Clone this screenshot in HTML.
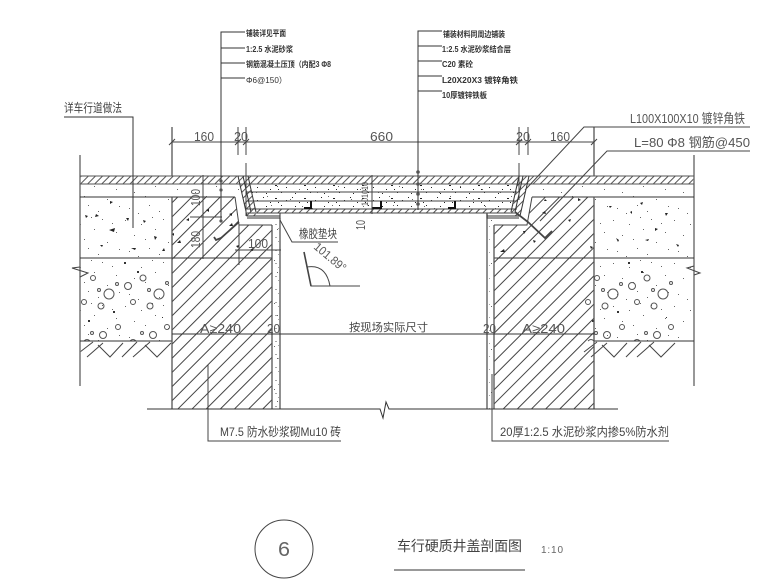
<!DOCTYPE html>
<html><head><meta charset="utf-8"><style>
html,body{margin:0;padding:0;background:#fff}
svg{display:block}
text{font-family:"Liberation Sans","Noto Sans CJK SC",sans-serif;fill:#444}
.s{font-size:8px;font-weight:700;fill:#333}
.n{font-size:13px;fill:#555}
.m{font-size:12px;fill:#444}
</style></head><body>
<svg width="760" height="586" viewBox="0 0 760 586" xmlns="http://www.w3.org/2000/svg">
<defs>
<pattern id="h1" width="10" height="10" patternUnits="userSpaceOnUse" patternTransform="rotate(45)"><path d="M5 0V10" stroke="#444" stroke-width="1"/></pattern>
<pattern id="h2" width="5" height="5" patternUnits="userSpaceOnUse" patternTransform="rotate(45)"><path d="M2 0V5" stroke="#555" stroke-width="1"/></pattern>
<pattern id="d" width="61" height="43" patternUnits="userSpaceOnUse"><g fill="#666">
<rect x="3" y="5" width="1" height="1"/><rect x="12" y="20" width="1" height="1"/><rect x="19" y="9" width="1" height="1"/><rect x="27" y="33" width="1" height="1"/><rect x="33" y="14" width="1" height="1"/><rect x="41" y="4" width="1" height="1"/><rect x="46" y="27" width="1" height="1"/><rect x="55" y="17" width="1" height="1"/><rect x="7" y="36" width="1" height="1"/><rect x="23" y="24" width="1" height="1"/><rect x="37" y="39" width="1" height="1"/><rect x="51" y="8" width="1" height="1"/><rect x="58" y="34" width="1" height="1"/><rect x="16" y="41" width="1" height="1"/><rect x="30" y="2" width="1" height="1"/></g></pattern>
<pattern id="dd" width="29" height="13" patternUnits="userSpaceOnUse"><g fill="#222">
<rect x="2" y="2" width="1" height="1"/><rect x="9" y="7" width="1" height="1"/><rect x="14" y="3" width="2" height="1"/><rect x="20" y="10" width="1" height="1"/><rect x="25" y="5" width="1" height="1"/><rect x="5" y="11" width="1" height="1"/><rect x="17" y="7" width="1" height="1"/></g></pattern>
<g id="grav" fill="none" stroke="#555" stroke-width="1">
<circle cx="93" cy="278" r="2.5"/><circle cx="143" cy="278" r="3"/><circle cx="128" cy="286" r="3.5"/><circle cx="117" cy="284" r="1.5"/><circle cx="109" cy="294" r="5"/><circle cx="159" cy="294" r="5"/><circle cx="149" cy="290" r="1.5"/><circle cx="99" cy="290" r="1.5"/><circle cx="84" cy="302" r="2.5"/><circle cx="101" cy="306" r="3"/><circle cx="133" cy="302" r="2.5"/><circle cx="150" cy="306" r="3"/><circle cx="167" cy="283" r="1.5"/><circle cx="118" cy="327" r="2.5"/><circle cx="167" cy="327" r="2.5"/><circle cx="92" cy="333" r="1.5"/><circle cx="103" cy="335" r="3.5"/><circle cx="142" cy="333" r="1.5"/><circle cx="153" cy="335" r="3.5"/><path d="M84 341q3-3 6 0M130 341q3-3 6 0"/>
<path d="M80 352 93 342M87 357 103 343M98 345 110 357 123 343M122 357 137 342M133 357 150 342M145 345 157 357 171 343" stroke="#444"/>
<g fill="#333" stroke="none"><rect x="113" y="311" width="2" height="2"/><rect x="137" y="271" width="2" height="2"/><rect x="88" y="320" width="2" height="2"/><rect x="162" y="317" width="1" height="1"/><rect x="124" y="262" width="2" height="2"/></g>
</g>
</defs>

<!-- fills -->
<rect x="80" y="176" width="614" height="8" fill="url(#h2)"/>
<rect x="80" y="184" width="614" height="13" fill="url(#d)"/>
<rect x="80" y="197" width="92" height="61" fill="url(#d)"/>
<rect x="594" y="197" width="100" height="61" fill="url(#d)"/>
<rect x="80" y="258" width="92" height="83" fill="url(#d)"/>
<rect x="594" y="258" width="100" height="83" fill="url(#d)"/>
<rect x="272" y="220" width="8" height="189" fill="url(#d)"/>
<rect x="272" y="220" width="8" height="189" fill="url(#dd)" opacity=".4"/>
<rect x="487" y="215" width="7" height="194" fill="url(#d)"/>
<rect x="487" y="215" width="7" height="194" fill="url(#dd)" opacity=".4"/>
<path d="M172 197H235L239 225H272V409H172Z" fill="url(#h1)"/>
<path d="M532 197H594V409H494V225H527Z" fill="url(#h1)"/>
<rect x="247" y="185" width="270" height="24" fill="#fff"/>
<rect x="247" y="185" width="270" height="24" fill="url(#dd)"/>
<rect x="247" y="185" width="270" height="24" fill="url(#d)"/>
<rect x="247" y="209" width="270" height="4" fill="url(#h2)"/>
<path d="M238 176 247 216H256L248 176ZM529 176 520 216H511L519 176Z" fill="#fff"/>
<path d="M238 176 247 216H256L248 176ZM529 176 520 216H511L519 176Z" fill="url(#h2)"/>

<use href="#grav"/>
<use href="#grav" x="504"/>

<!-- structure lines -->
<g fill="none" stroke="#444" stroke-width="1">
<path d="M80 155V386M694 155V386" stroke="#777" stroke-width="1.5"/>
<path d="M80 176H694M80 184H694" stroke="#555"/>
<path d="M80 197H235M532 197H694M80 258H272M494 258H694M80 341H172M594 341H694" stroke="#333"/>
<path d="M172 127V176M172 197V409M272 225V409M280 218V409M487 214V409M494 225V409M594 127V176M594 197V409" stroke="#555" stroke-width="1.3"/>
<path d="M235 197 239 225H272M532 197 527 225H494"/>
<path d="M147 409H380L383 418 386 402 389 409H618" stroke="#333"/>
<path d="M80 267 72 268 88 273 80 277"/>
<path d="M694 266 687 268 700 273 694 275"/>
<!-- cover -->
<path d="M247 192H517M247 201H517M247 209H517M247 213H517" stroke="#444"/>
<path d="M238 176 247 216H280M243 176 251 212M248 176 256 212" stroke="#333"/>
<path d="M529 176 520 216H487M523 176 515 212M519 176 511 212" stroke="#333"/>
<path d="M280 213V218H247M487 213V218H519" stroke="#333"/>
<path d="M515 212 528 222 545 238 552 231" stroke-width="1.8"/>
<path d="M239 222 221 238 216 240 214 237" stroke-width="1.8"/>
<path d="M311 201V208H304M381 201V208H372M455 201V208H448" stroke="#111" stroke-width="2"/>
<!-- dims -->
<path d="M172 142H594M238 127V155M246 127V155M246 163V216M519 127V155M528 127V155M519 163V200"/>
<path d="M169 145 175 139M235 145 241 139M243 145 249 139M516 145 522 139M525 145 531 139M591 145 597 139"/>
<path d="M172 334H594" stroke="#333"/>
<path d="M203 175V259M190 217H222M203 214V220"/>
<path d="M235 250H281M239 225V265"/>
<path d="M372 175V214"/>
<!-- leaders -->
<path d="M245 32H221V222M221 48H245M221 63H245M221 78H245" stroke="#333"/>
<path d="M442 31H418V210M418 46H442M418 61H442M418 76H442M418 91H442" stroke="#333"/>
<path d="M64 117H133V228" stroke="#333"/>
<path d="M750 127H584L525 190" />
<path d="M750 151H607L540 221" />
<path d="M280 220 292 242H338"/>
<path d="M208 365V441H341"/>
<path d="M492 374V441H669"/>
<!-- angle -->
<path d="M304 252 311 286H360" stroke-width="1"/>
<path d="M304 252 311 286" stroke-width="1.6"/>
<path d="M307 267Q326 264 330 286"/>
<!-- title -->
<circle cx="284" cy="549" r="29"/>
<path d="M394 570H525" stroke="#333"/>
</g>
<g fill="#555"><circle cx="221" cy="181" r="1.6"/><circle cx="221" cy="190" r="1.6"/><circle cx="221" cy="221" r="1.6"/>
<circle cx="418" cy="172" r="1.8"/><circle cx="418" cy="184" r="1.8"/><circle cx="418" cy="194" r="1.8"/><circle cx="418" cy="204" r="1.8"/></g>

<!-- aggregate marks -->
<g fill="#222">
<path d="M110 201l3 1-3 2zM85 215l3 1-2 2zM96 214l3 2-4 1zM126 218l3 0-1 3zM143 220l3 1-2 2zM109 230l6-2-1 4zM154 236l3 1-2 3zM100 245l3 0-1 2zM131 248l5 0-1 2zM162 251l2-3 1 3zM172 234l2-1v3zM177 243l3-3 1 3zM186 220l3-2 0 3zM206 210l3-1 0 3zM229 214l3-1v3zM229 226l3-3 1 3zM236 246l3-1-1 3zM250 250l3-2 0 3z"/>
<path d="M609 206l3 0-2 2zM630 212l2-1v3zM640 203l3-1-1 3zM665 213l3 0-2 3zM616 238l3 2-1 2zM645 240l4-1-1 2zM676 244l3 1-1 2zM655 228l3 1-3 2zM545 199l2 2-3 0zM578 198l3 2-3 1zM542 213l3-2 1 3zM568 220l3-1-1 3zM590 246l3 1-2 2zM523 231l3 0-2 3zM500 252l4-3 1 3zM533 240l3 1-2 2z"/>
</g>

<!-- text -->
<text class="s" x="246" y="36" textLength="40" lengthAdjust="spacingAndGlyphs">铺装详见平面</text>
<text class="s" x="246" y="52" textLength="47" lengthAdjust="spacingAndGlyphs">1:2.5 水泥砂浆</text>
<text class="s" x="246" y="67" textLength="85" lengthAdjust="spacingAndGlyphs">钢筋混凝土压顶（内配3 Φ8</text>
<text class="s" x="246" y="83" textLength="41" lengthAdjust="spacingAndGlyphs" style="font-weight:400">Φ6@150）</text>
<text class="s" x="443" y="37" textLength="62" lengthAdjust="spacingAndGlyphs">铺装材料同周边铺装</text>
<text class="s" x="442" y="52" textLength="69" lengthAdjust="spacingAndGlyphs">1:2.5 水泥砂浆结合层</text>
<text class="s" x="442" y="67" textLength="31" lengthAdjust="spacingAndGlyphs">C20 素砼</text>
<text class="s" x="442" y="83" textLength="76" lengthAdjust="spacingAndGlyphs">L20X20X3 镀锌角铁</text>
<text class="s" x="442" y="98" textLength="45" lengthAdjust="spacingAndGlyphs">10厚镀锌铁板</text>
<text class="m" x="64" y="112" textLength="58" lengthAdjust="spacingAndGlyphs">详车行道做法</text>
<text class="n" x="194" y="141" textLength="20" lengthAdjust="spacingAndGlyphs">160</text>
<text class="n" x="234" y="141" textLength="14" lengthAdjust="spacingAndGlyphs">20</text>
<text class="n" x="370" y="141" textLength="23" lengthAdjust="spacingAndGlyphs">660</text>
<text class="n" x="516" y="141" textLength="14" lengthAdjust="spacingAndGlyphs">20</text>
<text class="n" x="550" y="141" textLength="20" lengthAdjust="spacingAndGlyphs">160</text>
<text class="n" x="630" y="123" textLength="115" lengthAdjust="spacingAndGlyphs">L100X100X10 镀锌角铁</text>
<text class="n" x="634" y="147" textLength="116" lengthAdjust="spacingAndGlyphs">L=80  Φ8 钢筋@450</text>
<text class="n" transform="translate(200,206) rotate(-90)" textLength="17" lengthAdjust="spacingAndGlyphs">100</text>
<text class="n" transform="translate(200,248) rotate(-90)" textLength="17" lengthAdjust="spacingAndGlyphs">180</text>
<text class="n" x="248" y="248" textLength="20" lengthAdjust="spacingAndGlyphs">100</text>
<text class="n" transform="translate(365,230) rotate(-90)" textLength="10" lengthAdjust="spacingAndGlyphs">10</text>
<text class="n" style="font-size:9px" transform="translate(368,190) rotate(-90)" textLength="8" lengthAdjust="spacingAndGlyphs">10</text>
<text class="n" style="font-size:9px" transform="translate(368,198) rotate(-90)" textLength="8" lengthAdjust="spacingAndGlyphs">10</text>
<text class="n" style="font-size:9px" transform="translate(368,206) rotate(-90)" textLength="8" lengthAdjust="spacingAndGlyphs">10</text>
<text class="m" x="299" y="238" textLength="38" lengthAdjust="spacingAndGlyphs">橡胶垫块</text>
<text style="font-size:12px;fill:#555" transform="translate(313,248) rotate(40)" textLength="38" lengthAdjust="spacingAndGlyphs">101.89°</text>
<text class="m" x="349" y="331" textLength="79" lengthAdjust="spacingAndGlyphs" style="font-size:11px">按现场实际尺寸</text>
<text class="n" x="200" y="333" textLength="41" lengthAdjust="spacingAndGlyphs">A≥240</text>
<text class="n" x="522" y="333" textLength="43" lengthAdjust="spacingAndGlyphs">A≥240</text>
<text class="n" x="267" y="333" textLength="13" lengthAdjust="spacingAndGlyphs">20</text>
<text class="n" x="483" y="333" textLength="13" lengthAdjust="spacingAndGlyphs">20</text>
<text class="m" x="220" y="436" textLength="121" lengthAdjust="spacingAndGlyphs">M7.5 防水砂浆砌Mu10 砖</text>
<text class="m" x="500" y="436" textLength="169" lengthAdjust="spacingAndGlyphs">20厚1:2.5 水泥砂浆内掺5%防水剂</text>
<text x="278" y="556" style="font-size:20px;fill:#666" textLength="12" lengthAdjust="spacingAndGlyphs">6</text>
<text x="397" y="551" style="font-size:14px" textLength="125" lengthAdjust="spacing">车行硬质井盖剖面图</text>
<text x="541" y="553" style="font-size:10px;fill:#666" textLength="22">1:10</text>
</svg>
</body></html>
